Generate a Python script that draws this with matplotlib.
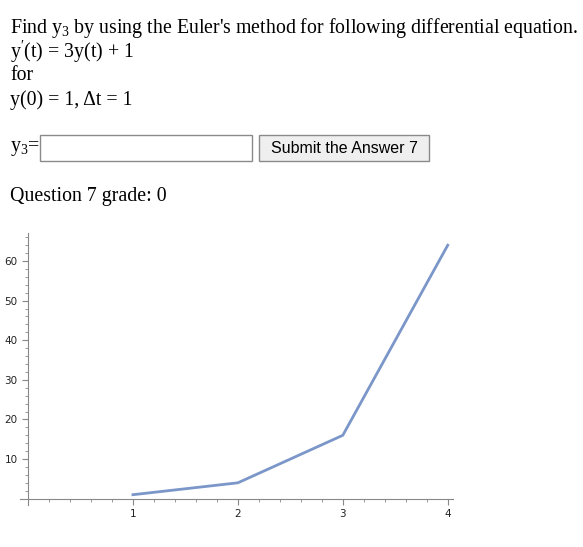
import matplotlib
matplotlib.use("Agg")
import matplotlib.pyplot as plt
from matplotlib.patches import Rectangle
from matplotlib.ticker import MultipleLocator

t = [1, 2, 3, 4]
y = [1, 4, 16, 64]
xticks = [1, 2, 3, 4]
yticks = [10, 20, 30, 40, 50, 60]

plt.rcParams['mathtext.fontset'] = 'custom'
plt.rcParams['mathtext.rm'] = 'Liberation Serif'
plt.rcParams['mathtext.it'] = 'Liberation Serif'

W, H = 583, 547
fig = plt.figure(figsize=(W/100, H/100), dpi=100)

def fx(px): return px / W
def fy(py): return 1 - py / H

serif = "Liberation Serif"
fs = 14.3
fig.text(fx(10), fy(28), "Find y$_\\mathrm{3}$ by using the Euler's method for following differential equation.",
         family=serif, fontsize=fs, va="center")
fig.text(fx(10), fy(52), "y$'$(t) = 3y(t) + 1", family=serif, fontsize=fs, va="center")
fig.text(fx(10), fy(76), "for", family=serif, fontsize=fs, va="center")
fig.text(fx(10), fy(100), "y(0) = 1, \u0394t = 1", family=serif, fontsize=fs, va="center")
fig.text(fx(10), fy(148), "y$_\\mathrm{3}$=", family=serif, fontsize=fs, va="center")
fig.text(fx(10), fy(197), "Question 7 grade: 0", family=serif, fontsize=fs, va="center")

fig.patches.append(Rectangle((fx(40), fy(161)), fx(212), 26/H, transform=fig.transFigure,
                             facecolor="white", edgecolor="#8a8a8a", lw=1))
fig.patches.append(Rectangle((fx(259), fy(161)), fx(170), 26/H, transform=fig.transFigure,
                             facecolor="#efefef", edgecolor="#8a8a8a", lw=1))
fig.text(fx(344), fy(148), "Submit the Answer 7", family="Liberation Sans", fontsize=11.5,
         ha="center", va="center")

ax = fig.add_axes([fx(19.6), fy(504.6), fx(453-19.6), (504.6-233.3)/H])
ax.plot(t, y, color="#7b96c8", lw=2)
ax.set_xlim(-0.08, 4.05)
ax.set_ylim(-1.5, 67)
for s in ["top", "right"]:
    ax.spines[s].set_visible(False)
ax.spines["left"].set_position(("data", 0))
ax.spines["bottom"].set_position(("data", 0))
for s in ["left", "bottom"]:
    ax.spines[s].set_color("#888888")
ax.set_xticks(xticks)
ax.set_yticks(yticks)
ax.xaxis.set_minor_locator(MultipleLocator(0.2))
ax.yaxis.set_minor_locator(MultipleLocator(2))
ax.tick_params(which="major", length=4, color="#888888", labelsize=7.5, labelcolor="#222222")
ax.tick_params(which="minor", length=2, color="#888888")
ax.patch.set_visible(False)

fig.savefig("out.png", dpi=100)
